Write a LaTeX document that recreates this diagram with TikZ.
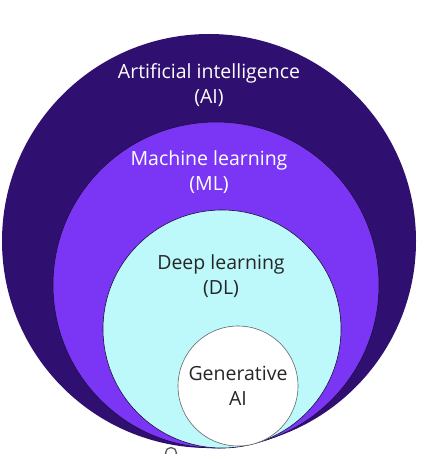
\documentclass[tikz,border=0pt]{standalone}
\usepackage{fontspec}
\setmainfont{Open Sans}
\definecolor{aicol}{HTML}{2F1070}
\definecolor{mlcol}{HTML}{7A36F4}
\definecolor{dlcol}{HTML}{BDF8FB}
\definecolor{edgecol}{HTML}{1E0B40}
\begin{document}
\begin{tikzpicture}[x=1pt,y=-1pt,
  ring/.style={circle, inner sep=0pt, outer sep=0pt},
  lbl/.style={align=center, font=\fontsize{19.5}{24.5}\selectfont}]
\useasboundingbox (0,0) rectangle (427,454);
\fill[white] (0,0) rectangle (427,454);
\node[ring, minimum size=414pt, fill=aicol] (ai) at (209,241) {};
\node[ring, minimum size=326pt, fill=mlcol, draw=edgecol, line width=0.6pt] (ml) at (216,285) {};
\node[ring, minimum size=238pt, fill=dlcol, draw=edgecol, line width=0.6pt] (dl) at (222,329) {};
\node[ring, minimum size=120pt, fill=white, draw=gray!80!black, line width=0.6pt] (gen) at (238,386) {};
\node[lbl, text=white] (tai) at (209,85) {Artificial intelligence\\(AI)};
\node[lbl, text=white] (tml) at (209,172) {Machine learning\\(ML)};
\node[lbl, text=black!85] (tdl) at (221,276) {Deep learning\\(DL)};
\node[lbl, text=black!85] (tgen) at (238,386) {Generative\\AI};
\node[ring, minimum size=11pt, draw=gray!70!black, line width=1.3pt] (cur) at (171,453) {};
\end{tikzpicture}
\end{document}
